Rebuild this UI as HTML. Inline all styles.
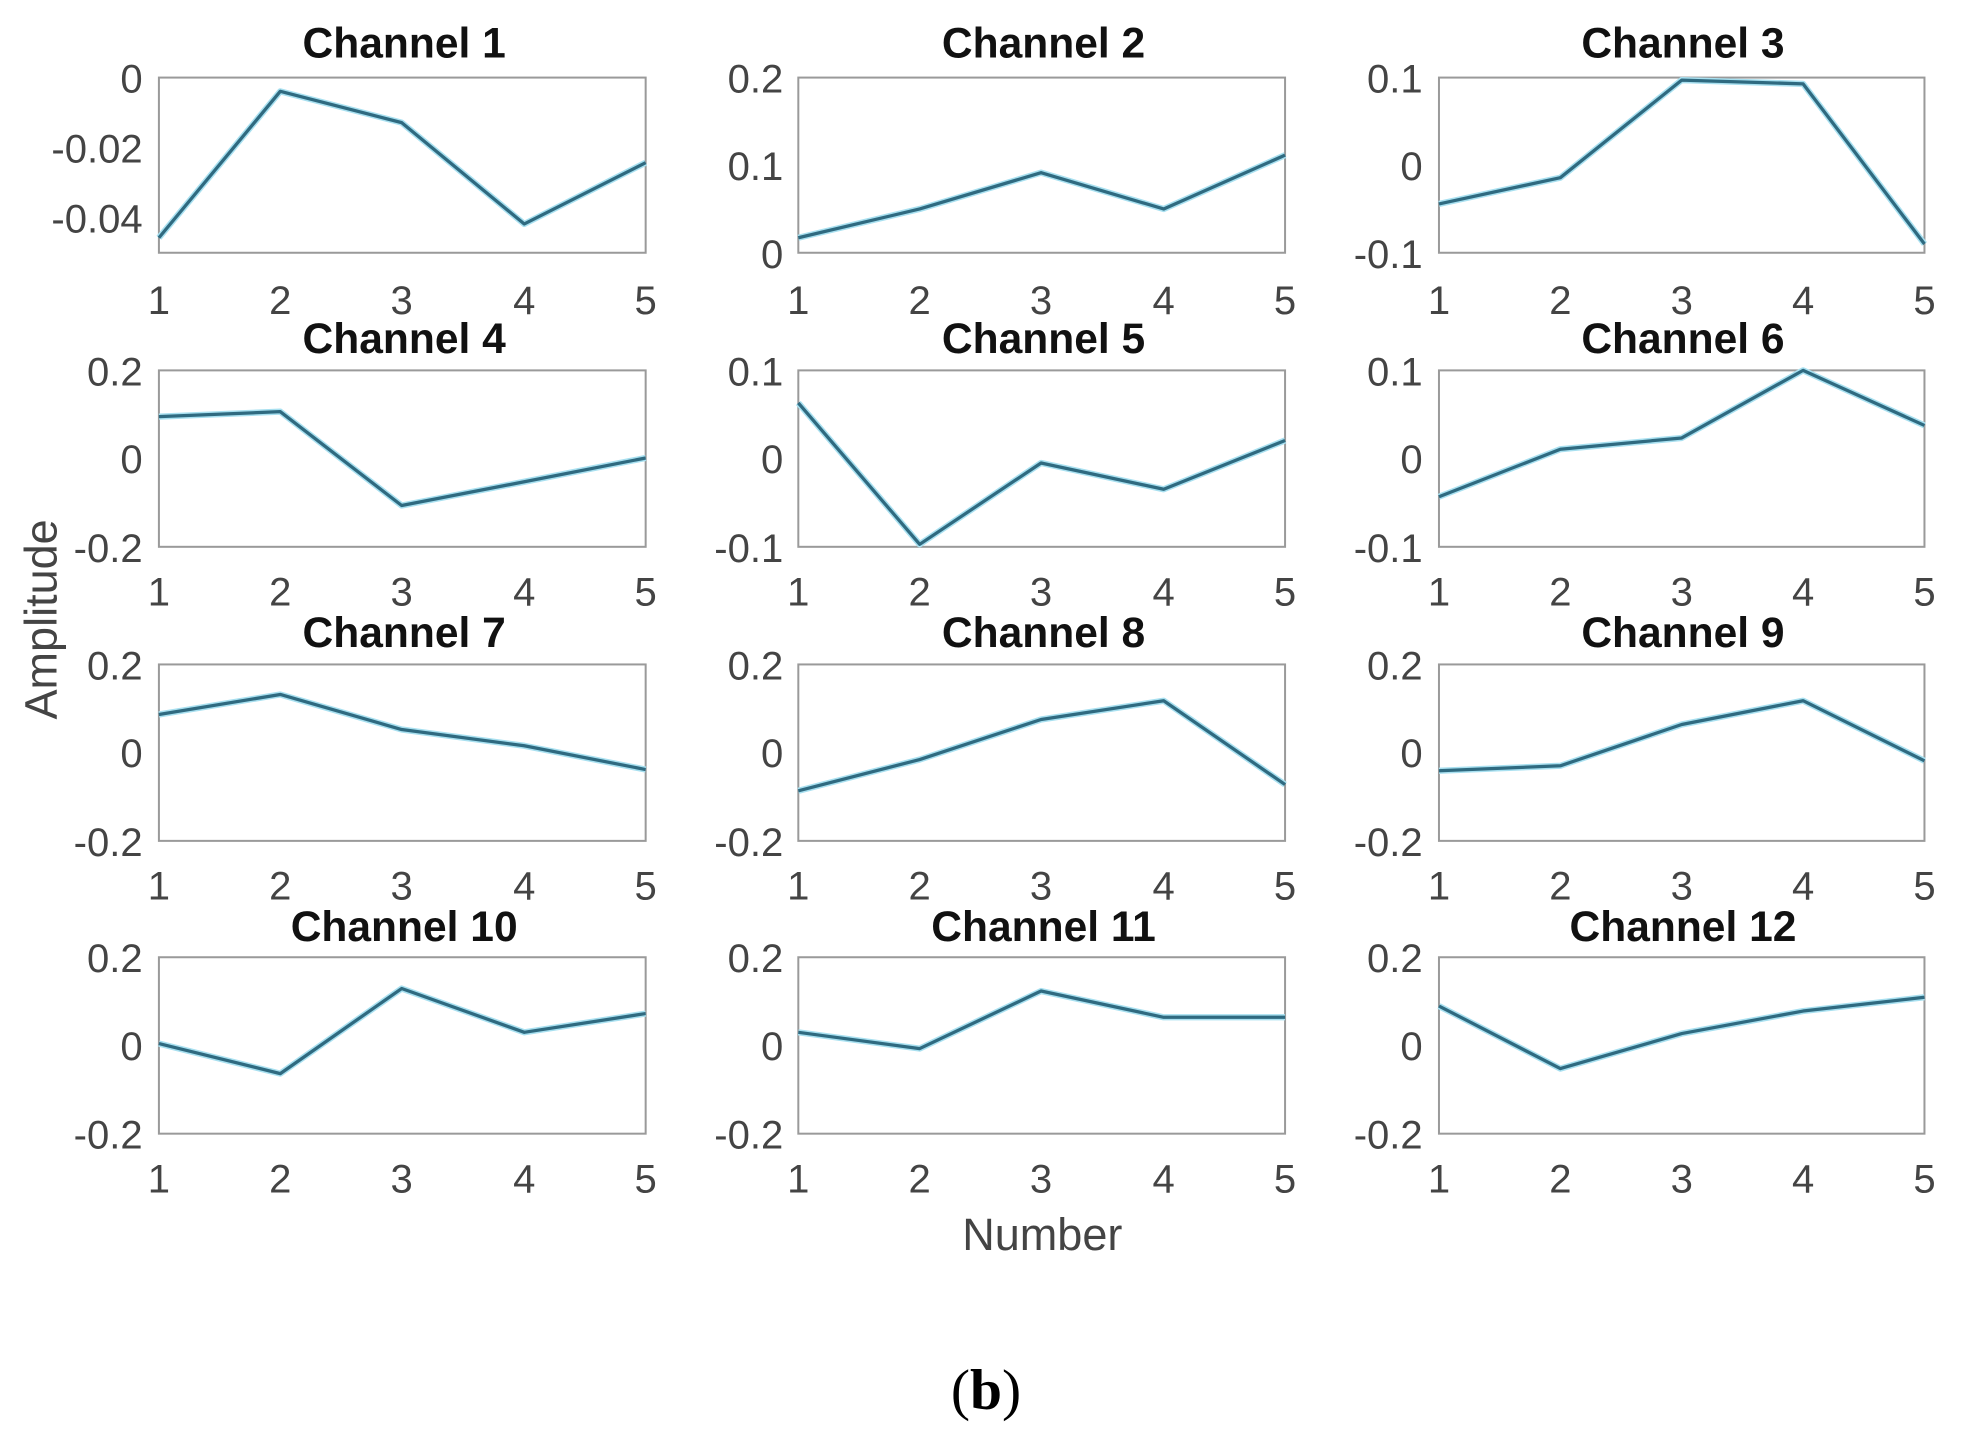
<!DOCTYPE html>
<html><head><meta charset="utf-8"><style>
html,body{margin:0;padding:0;background:#fff;}
svg{display:block;}
.t{font-family:"Liberation Sans",Arial,sans-serif;font-size:32px;fill:#444;}
.ti{font-family:"Liberation Sans",Arial,sans-serif;font-size:34px;font-weight:bold;fill:#111;text-anchor:middle;}
.box{fill:none;stroke:#9a9a9a;stroke-width:1.6;}
.ln{fill:none;stroke:#a8e0f0;stroke-width:5;stroke-linejoin:round;}
.ln2{fill:none;stroke:#2f6a80;stroke-width:2.6;stroke-linejoin:round;}
.yl{text-anchor:end;}
.xl{text-anchor:middle;}
</style></head><body>
<svg width="1962" height="1449" viewBox="0 0 1568 1158" preserveAspectRatio="none" xmlns="http://www.w3.org/2000/svg">
<rect width="1568" height="1158" fill="#fff"/>
<g class="box">
<rect x="127" y="62" width="389" height="140"/><rect x="638" y="62" width="389" height="140"/><rect x="1150" y="62" width="388" height="140"/>
<rect x="127" y="296" width="389" height="141"/><rect x="638" y="296" width="389" height="141"/><rect x="1150" y="296" width="388" height="141"/>
<rect x="127" y="531" width="389" height="141"/><rect x="638" y="531" width="389" height="141"/><rect x="1150" y="531" width="388" height="141"/>
<rect x="127" y="765" width="389" height="141"/><rect x="638" y="765" width="389" height="141"/><rect x="1150" y="765" width="388" height="141"/>
</g>
<text class="ti" x="323" y="46">Channel 1</text><text class="ti" x="834" y="46">Channel 2</text><text class="ti" x="1345" y="46">Channel 3</text>
<text class="ti" x="323" y="282">Channel 4</text><text class="ti" x="834" y="282">Channel 5</text><text class="ti" x="1345" y="282">Channel 6</text>
<text class="ti" x="323" y="517">Channel 7</text><text class="ti" x="834" y="517">Channel 8</text><text class="ti" x="1345" y="517">Channel 9</text>
<text class="ti" x="323" y="752">Channel 10</text><text class="ti" x="834" y="752">Channel 11</text><text class="ti" x="1345" y="752">Channel 12</text>
<g class="t xl">
<text x="127" y="251">1</text><text x="224" y="251">2</text><text x="321" y="251">3</text><text x="419" y="251">4</text><text x="516" y="251">5</text>
<text x="638" y="251">1</text><text x="735" y="251">2</text><text x="832" y="251">3</text><text x="930" y="251">4</text><text x="1027" y="251">5</text>
<text x="1150" y="251">1</text><text x="1247" y="251">2</text><text x="1344" y="251">3</text><text x="1441" y="251">4</text><text x="1538" y="251">5</text>
<text x="127" y="484">1</text><text x="224" y="484">2</text><text x="321" y="484">3</text><text x="419" y="484">4</text><text x="516" y="484">5</text>
<text x="638" y="484">1</text><text x="735" y="484">2</text><text x="832" y="484">3</text><text x="930" y="484">4</text><text x="1027" y="484">5</text>
<text x="1150" y="484">1</text><text x="1247" y="484">2</text><text x="1344" y="484">3</text><text x="1441" y="484">4</text><text x="1538" y="484">5</text>
<text x="127" y="719">1</text><text x="224" y="719">2</text><text x="321" y="719">3</text><text x="419" y="719">4</text><text x="516" y="719">5</text>
<text x="638" y="719">1</text><text x="735" y="719">2</text><text x="832" y="719">3</text><text x="930" y="719">4</text><text x="1027" y="719">5</text>
<text x="1150" y="719">1</text><text x="1247" y="719">2</text><text x="1344" y="719">3</text><text x="1441" y="719">4</text><text x="1538" y="719">5</text>
<text x="127" y="953">1</text><text x="224" y="953">2</text><text x="321" y="953">3</text><text x="419" y="953">4</text><text x="516" y="953">5</text>
<text x="638" y="953">1</text><text x="735" y="953">2</text><text x="832" y="953">3</text><text x="930" y="953">4</text><text x="1027" y="953">5</text>
<text x="1150" y="953">1</text><text x="1247" y="953">2</text><text x="1344" y="953">3</text><text x="1441" y="953">4</text><text x="1538" y="953">5</text>
</g>
<g class="t yl">
<text x="114" y="74">0</text><text x="114" y="130">-0.02</text><text x="114" y="186">-0.04</text>
<text x="626" y="74">0.2</text><text x="626" y="144">0.1</text><text x="626" y="214">0</text>
<text x="1137" y="74">0.1</text><text x="1137" y="144">0</text><text x="1137" y="214">-0.1</text>
<text x="114" y="308">0.2</text><text x="114" y="378">0</text><text x="114" y="449">-0.2</text>
<text x="626" y="308">0.1</text><text x="626" y="378">0</text><text x="626" y="449">-0.1</text>
<text x="1137" y="308">0.1</text><text x="1137" y="378">0</text><text x="1137" y="449">-0.1</text>
<text x="114" y="543">0.2</text><text x="114" y="613">0</text><text x="114" y="684">-0.2</text>
<text x="626" y="543">0.2</text><text x="626" y="613">0</text><text x="626" y="684">-0.2</text>
<text x="1137" y="543">0.2</text><text x="1137" y="613">0</text><text x="1137" y="684">-0.2</text>
<text x="114" y="777">0.2</text><text x="114" y="847">0</text><text x="114" y="918">-0.2</text>
<text x="626" y="777">0.2</text><text x="626" y="847">0</text><text x="626" y="918">-0.2</text>
<text x="1137" y="777">0.2</text><text x="1137" y="847">0</text><text x="1137" y="918">-0.2</text>
</g>
<g class="ln">
<polyline points="127,190 224,73 321,98 419,179 516,130"/>
<polyline points="638,190 735,167 832,138 930,167 1027,124"/>
<polyline points="1150,163 1247,142 1344,64 1441,67 1538,195"/>
<polyline points="127,333 224,329 321,404 419,385 516,366"/>
<polyline points="638,322 735,435 832,370 930,391 1027,352"/>
<polyline points="1150,397 1247,359 1344,350 1441,296 1538,340"/>
<polyline points="127,571 224,555 321,583 419,596 516,615"/>
<polyline points="638,632 735,607 832,575 930,560 1027,627"/>
<polyline points="1150,616 1247,612 1344,579 1441,560 1538,608"/>
<polyline points="127,834 224,858 321,790 419,825 516,810"/>
<polyline points="638,825 735,838 832,792 930,813 1027,813"/>
<polyline points="1150,804 1247,854 1344,826 1441,808 1538,797"/>
</g>
<g class="ln2">
<polyline points="127,190 224,73 321,98 419,179 516,130"/>
<polyline points="638,190 735,167 832,138 930,167 1027,124"/>
<polyline points="1150,163 1247,142 1344,64 1441,67 1538,195"/>
<polyline points="127,333 224,329 321,404 419,385 516,366"/>
<polyline points="638,322 735,435 832,370 930,391 1027,352"/>
<polyline points="1150,397 1247,359 1344,350 1441,296 1538,340"/>
<polyline points="127,571 224,555 321,583 419,596 516,615"/>
<polyline points="638,632 735,607 832,575 930,560 1027,627"/>
<polyline points="1150,616 1247,612 1344,579 1441,560 1538,608"/>
<polyline points="127,834 224,858 321,790 419,825 516,810"/>
<polyline points="638,825 735,838 832,792 930,813 1027,813"/>
<polyline points="1150,804 1247,854 1344,826 1441,808 1538,797"/>
</g>
<text class="t" x="0" y="0" transform="translate(45,495) rotate(-90)" text-anchor="middle" style="font-size:36px">Amplitude</text>
<text class="t" x="833" y="999" text-anchor="middle" style="font-size:36px">Number</text>
<text x="788" y="1126" text-anchor="middle" style="font-family:'Liberation Serif',serif;font-size:46px;fill:#000">(<tspan font-weight="bold">b</tspan>)</text>
</svg>
</body></html>
